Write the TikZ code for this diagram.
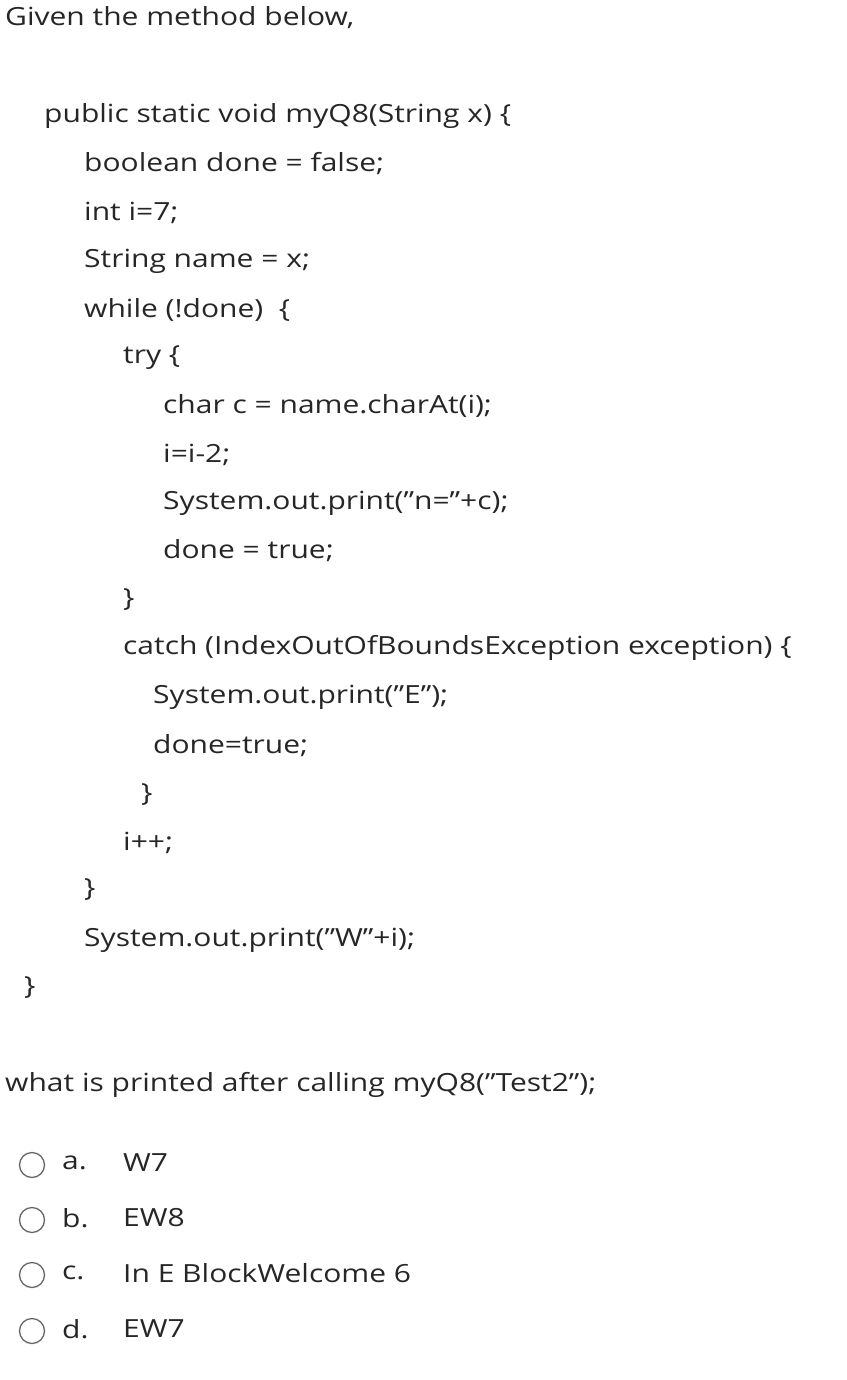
\documentclass[tikz,border=0pt]{standalone}
\usepackage{fontspec}
\setmainfont[FakeStretch=1.2]{Open Sans}
\newcommand{\dq}{{\char34}}
\begin{document}
\begin{tikzpicture}[x=1pt,y=-1pt,
  txt/.style={anchor=west,inner sep=0pt,text=black!85,font=\fontsize{25}{29}\selectfont},
  opt/.style={draw=black!60,line width=1.3pt,circle,minimum size=25pt,inner sep=0pt}]
\useasboundingbox (0,0) rectangle (846,1380);
\node[txt] (t0) at (5,18) {Given the method below,};
\node[txt] (l1) at (44,116) {public static void myQ8(String x) \{};
\node[txt] (l2) at (84,164) {boolean done = false;};
\node[txt] (l3) at (84,213) {int i=7;};
\node[txt] (l4) at (84,261) {String name = x;};
\node[txt] (l5) at (84,310) {while (!done)\ \ \{};
\node[txt] (l6) at (123,358) {try \{};
\node[txt] (l7) at (163,406) {char c = name.charAt(i);};
\node[txt] (l8) at (163,455) {i=i-2;};
\node[txt] (l9) at (163,503) {System.out.print(\dq n=\dq+c);};
\node[txt] (l10) at (163,551) {done = true;};
\node[txt] (l11) at (123,600) {\}};
\node[txt] (l12) at (123,648) {catch (IndexOutOfBoundsException exception) \{};
\node[txt] (l13) at (153,697) {System.out.print(\dq E\dq);};
\node[txt] (l14) at (153,746) {done=true;};
\node[txt] (l15) at (141,795) {\}};
\node[txt] (l16) at (123,843) {i++;};
\node[txt] (l17) at (84,890) {\}};
\node[txt] (l18) at (84,940) {System.out.print(\dq W\dq+i);};
\node[txt] (l19) at (24,988) {\}};
\node[txt] (q) at (5,1085) {what is printed after calling myQ8(\dq Test2\dq);};
\foreach \y/\l/\a [count=\k] in {1165/a./W7,1220/b./EW8,1275/c./In E BlockWelcome 6,1331/d./EW7}{
  \node[opt] (o\k) at (32,\y) {};
  \node[txt] (ol\k) at (62,\y-2) {\l};
  \node[txt] (oa\k) at (123,\y-2) {\a};
}
\end{tikzpicture}
\end{document}
